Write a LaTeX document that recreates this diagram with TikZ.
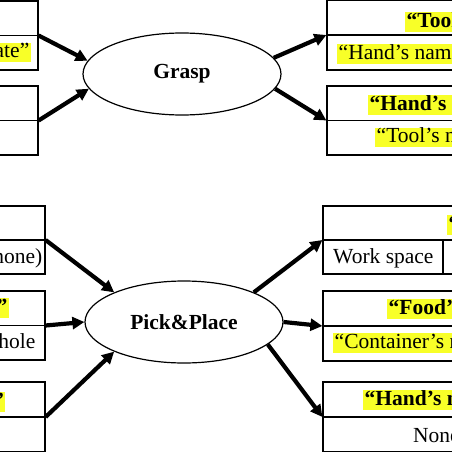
\documentclass[tikz,border=0pt]{standalone}
\usepackage{fontspec}
\setmainfont{Liberation Serif}
\usetikzlibrary{arrows.meta,shapes.geometric}
\definecolor{hl}{RGB}{248,255,40}
\newcommand\fsz{\fontsize{21.5}{25}\selectfont}
\tikzset{
  box/.style={draw, line width=1.2pt, inner sep=0pt},
  oval/.style={draw, ellipse, line width=1.2pt, minimum width=198pt, minimum height=82pt, inner sep=0pt, font=\fsz\bfseries},
  conn/.style={line width=4.2pt, -{Triangle[length=12pt,width=12pt]}},
  txt/.style={inner xsep=1.5pt, inner ysep=0pt, text height=15pt, text depth=4.5pt, font=\fsz},
  hlt/.style={txt, fill=hl},
  bold/.style={font=\fsz\bfseries}
}
\begin{document}
\begin{tikzpicture}[x=1pt,y=-1pt]
\useasboundingbox (0,0) rectangle (452,452);
\clip (0,0) rectangle (452,452);
\fill[white] (0,0) rectangle (452,452);

% ---- boxes ----
\node[box, minimum width=60pt, minimum height=69pt] (lt1) at (8,35.5) {};
\node[box, minimum width=60pt, minimum height=69pt] (lt2) at (8,120.5) {};
\node[box, minimum width=150pt, minimum height=70pt] (rt1) at (402,35) {};
\node[box, minimum width=150pt, minimum height=69pt] (rt2) at (402,120.5) {};
\node[box, minimum width=67pt, minimum height=68pt] (lb1) at (11.5,240) {};
\node[box, minimum width=67pt, minimum height=69pt] (lb2) at (11.5,325.5) {};
\node[box, minimum width=67pt, minimum height=70pt] (lb3) at (11.5,417) {};
\node[box, minimum width=150pt, minimum height=68pt] (rb1) at (398,240) {};
\node[box, minimum width=150pt, minimum height=70pt] (rb2) at (398,326) {};
\node[box, minimum width=150pt, minimum height=70pt] (rb3) at (398,417) {};
\foreach \b in {lt1,lt2,rt1,rt2,lb1,lb2,lb3,rb1,rb2,rb3}
  \draw[line width=1.2pt] (\b.west) -- (\b.east);
\coordinate (rbdiv) at (443,240);
\draw[line width=1.2pt] (rbdiv) -- (rbdiv |- rb1.south);

% ---- ovals ----
\node[oval] (grasp) at (182,74) {Grasp};
\node[oval] (pp) at (184,322) {Pick\&Place};

% ---- texts ----
\node[hlt, anchor=east] (t1) at (31,52.5) {ate”};
\node[hlt, bold, anchor=west] (t2) at (405,22) {“Tool’s name”};
\node[hlt, anchor=west] (t3) at (337,54) {“Hand’s name”};
\node[hlt, bold, anchor=west] (t4) at (368,105) {“Hand’s name”};
\node[hlt, anchor=west] (t5) at (375,137.5) {“Tool’s name”};
\node[txt, anchor=east] (t6) at (44,258) {(none)};
\node[hlt, bold, anchor=east] (t7) at (9,308) {“Food”};
\node[txt, anchor=east] (t8) at (37,343) {Whole};
\node[hlt, bold, anchor=east] (t9) at (5.5,402) {“Spoon”};
\node[hlt, bold, anchor=west] (t10) at (447,225) {“Food”};
\node[txt, anchor=west] (t11) at (331.5,258) {Work space};
\node[hlt, bold, anchor=west] (t12) at (387,309) {“Food’s name”};
\node[hlt, anchor=west] (t13) at (333,343) {“Container’s name”};
\node[hlt, bold, anchor=west] (t14) at (363,400) {“Hand’s name”};
\node[txt, anchor=west] (t15) at (411.5,437) {None};

% ---- connectors ----
\draw[conn] (lt1.east) -- (grasp.172);
\draw[conn] (lt2.east) -- (grasp.189);
\draw[conn] (grasp.10) -- (rt1.west);
\draw[conn] (grasp.351) -- (rt2.west);
\draw[conn] (lb1.east) -- (pp.157);
\draw[conn] (lb2.east) -- (pp.west);
\draw[conn] (lb3.east) -- (pp.203);
\draw[conn] (pp.23) -- (rb1.west);
\draw[conn] (pp.east) -- (rb2.west);
\draw[conn] (pp.345) -- (rb3.west);
\end{tikzpicture}
\end{document}
